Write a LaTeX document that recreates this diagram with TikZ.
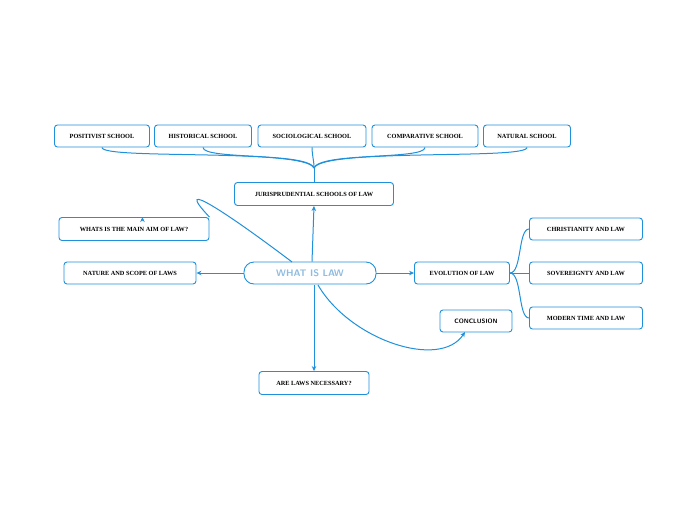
\documentclass[tikz,border=0pt]{standalone}
\usepackage{fontspec}
\setmainfont{Liberation Serif}
\usetikzlibrary{arrows.meta}
\definecolor{ln}{HTML}{1E90DC}
\definecolor{ctxt}{HTML}{8FBCE0}
\tikzset{
 box/.style={draw=ln,line width=0.9pt,rounded corners=3pt,fill=white,minimum height=22pt,inner xsep=6pt,font=\fontsize{6.3}{7}\selectfont\bfseries},
 conn/.style={draw=ln,line width=1pt},
 arr/.style={conn,-{Stealth[length=5pt,width=4.5pt]}}
}
\begin{document}
\begin{tikzpicture}[x=1pt,y=-1pt]
\useasboundingbox (0,0) rectangle (697,520);
\node[box,minimum width=95pt] (pos) at (102,136) {POSITIVIST SCHOOL};
\node[box,minimum width=97pt] (his) at (203,136) {HISTORICAL SCHOOL};
\node[box,minimum width=108pt] (soc) at (312,136) {SOCIOLOGICAL SCHOOL};
\node[box,minimum width=106pt] (com) at (425,136) {COMPARATIVE SCHOOL};
\node[box,minimum width=87pt] (nat) at (527,136) {NATURAL SCHOOL};
\node[box,minimum width=159pt,minimum height=23pt] (jur) at (314,194) {JURISPRUDENTIAL SCHOOLS OF LAW};
\node[box,minimum width=150pt,minimum height=23pt] (aim) at (134,229) {WHATS IS THE MAIN AIM OF LAW?};
\node[box,minimum width=132pt] (nsc) at (130,273) {NATURE AND SCOPE OF LAWS};
\node[draw=ln,line width=0.9pt,rounded corners=10pt,fill=white,minimum width=132pt,minimum height=22pt,text=ctxt,font=\fontsize{9.5}{10}\selectfont\bfseries\sffamily] (law) at (310,273) {WHAT IS LAW};
\node[box,minimum width=95pt] (evo) at (462,273) {EVOLUTION OF LAW};
\node[box,minimum width=113pt] (chr) at (586,229) {CHRISTIANITY AND LAW};
\node[box,minimum width=113pt] (sov) at (586,273) {SOVEREIGNTY AND LAW};
\node[box,minimum width=113pt] (mod) at (586,318) {MODERN TIME AND LAW};
\node[box,minimum width=72pt,font=\fontsize{6.3}{7}\selectfont\bfseries\sffamily] (con) at (476,321) {CONCLUSION};
\node[box,minimum width=110pt,minimum height=23pt] (nec) at (314,383) {ARE LAWS NECESSARY?};
\coordinate (j) at (314,168);
\draw[conn] (pos.south) .. controls (102,160) and (305,148) .. (j);
\draw[conn] (his.south) .. controls (203,160) and (308,152) .. (j);
\draw[conn] (soc.south) .. controls (312,155) and (314,160) .. (j);
\draw[conn] (com.south) .. controls (425,160) and (320,152) .. (j);
\draw[conn] (nat.south) .. controls (527,160) and (323,148) .. (j);
\draw[conn] (j) -- (jur.north);
\draw[arr] (law.north) ++(2,0) -- (jur.south);
\draw[arr] (292,262) .. controls (230,215) and (170,175) .. (aim.north east) ++(-67,0);
\draw[arr] (law.west) -- (nsc.east);
\draw[arr] (law.east) -- (evo.west);
\draw[conn] (evo.east) -- (sov.west);
\draw[conn] (evo.east) .. controls (522,273) and (518,229) .. (chr.west);
\draw[conn] (evo.east) .. controls (522,273) and (518,318) .. (mod.west);
\draw[arr] (318,285) .. controls (350,340) and (440,370) .. (465,332);
\draw[arr] (314,285) -- (nec.north);
\end{tikzpicture}
\end{document}
